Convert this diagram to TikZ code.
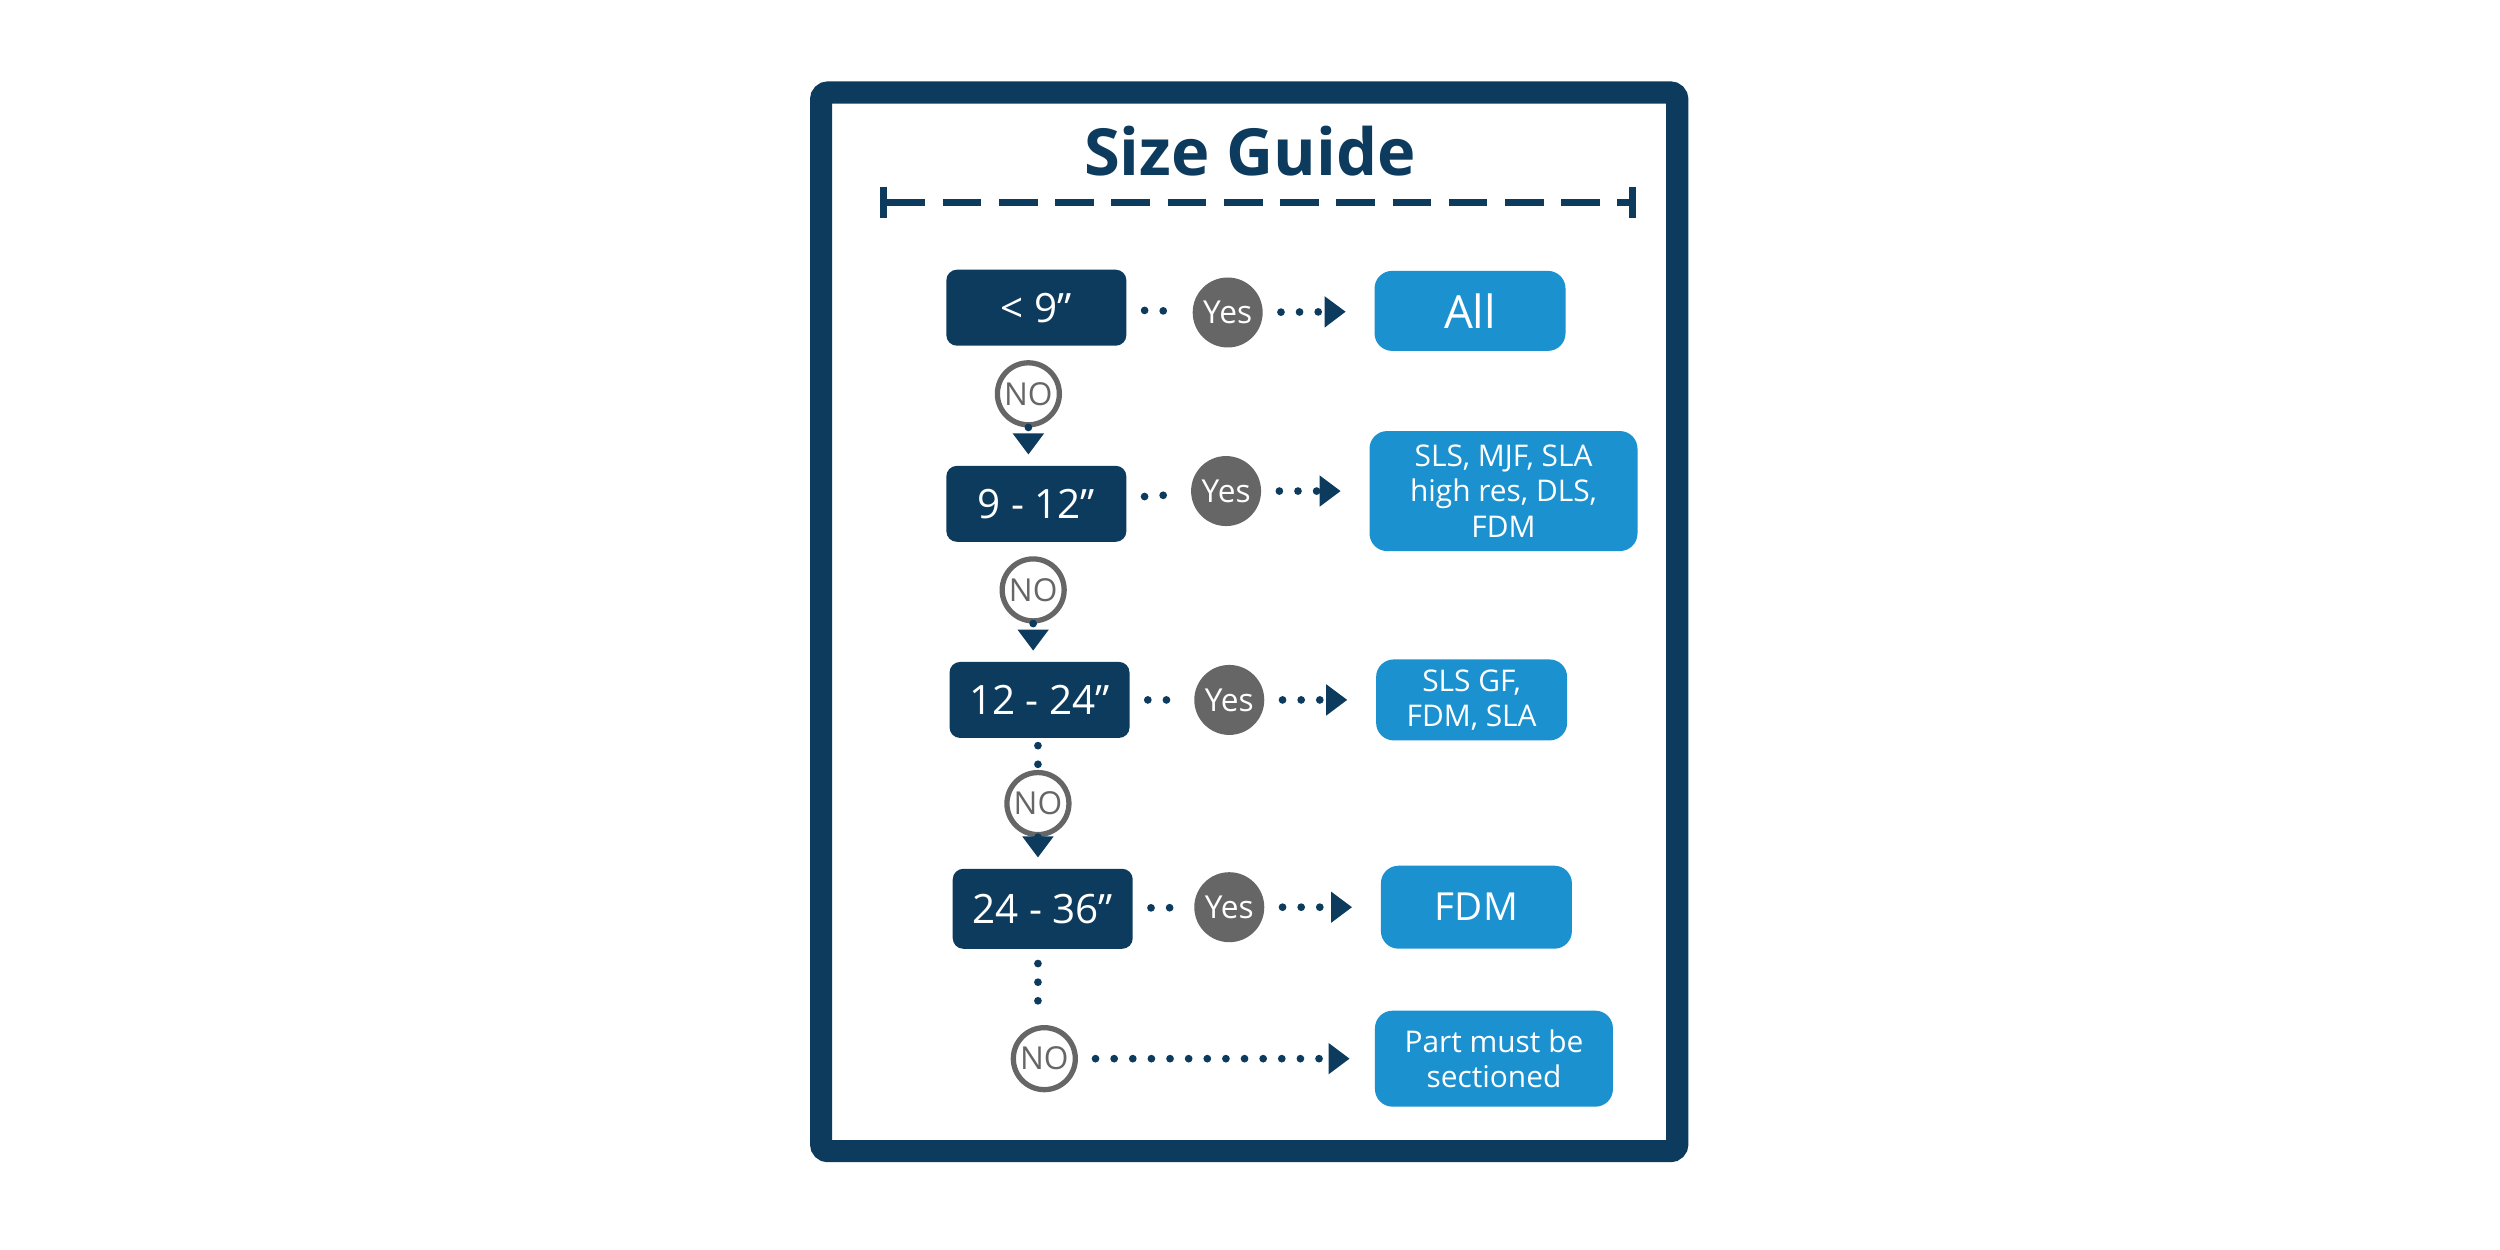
\documentclass[tikz,border=0pt]{standalone}
\usepackage{fontspec}
\setmainfont{Open Sans}
\usetikzlibrary{arrows.meta}
\definecolor{navy}{HTML}{0D3B5E}
\definecolor{skyblue}{HTML}{1B91D0}
\definecolor{greyc}{HTML}{666666}

\begin{document}
\begin{tikzpicture}[x=0.01594cm, y=-0.01594cm]
	\tikzstyle{sizebox} = [rectangle, rounded corners=3pt, fill=navy, text=white, minimum width=1.8cm, minimum height=0.76cm, font=\fontsize{11.5}{14}\selectfont]
	\tikzstyle{procbox} = [rectangle, rounded corners=5pt, fill=skyblue, text=white, align=center, font=\fontsize{8.5}{10}\selectfont, inner sep=2pt]
	\tikzstyle{yesdot} = [circle, fill=greyc, text=white, minimum size=0.7cm, inner sep=0pt, font=\fontsize{9}{10}\selectfont]
	\tikzstyle{nodot} = [circle, draw=greyc, line width=1.5pt, fill=white, text=greyc, minimum size=0.62cm, inner sep=0pt, font=\fontsize{9}{10}\selectfont]
	\tikzstyle{link} = [navy, line width=2.2pt, line cap=round, dash pattern=on 0pt off 5.3pt, shorten <=5pt]
	\tikzstyle{tip} = [-{Triangle[length=6pt,width=8.5pt,line cap=butt]}]
	\fill[white] (0,0) rectangle (1568,784);
	\draw[navy, line width=6.3pt, rounded corners=2pt] (515,58) rectangle (1052,722);
	\node[text=navy, font=\fontsize{18.5}{22}\selectfont\bfseries] (Title) at (784,95) {Size Guide};
	\draw[navy, line width=2pt, dash pattern=on 11pt off 5pt] (556,127) -- (1022,127);
	\draw[navy, line width=2pt] (554,117) -- (554,137) (1024,117) -- (1024,137);
	\node[sizebox] (Under9) at (650,193) {< 9”};
	\node[sizebox] (To12) at (650,316) {9 - 12”};
	\node[sizebox] (To24) at (652,439) {12 - 24”};
	\node[sizebox, minimum height=0.8cm] (To36) at (654,570) {24 - 36”};
	\node[yesdot] (YesA) at (770,196) {Yes};
	\node[yesdot] (YesB) at (769,308) {Yes};
	\node[yesdot] (YesC) at (771,439) {Yes};
	\node[yesdot] (YesD) at (771,569) {Yes};
	\node[procbox, minimum width=1.91cm, minimum height=0.8cm, font=\fontsize{13}{15}\selectfont] (All) at (922,195) {All};
	\node[procbox, minimum width=2.68cm, minimum height=1.2cm] (HighRes) at (943,308) {SLS, MJF, SLA\\high res, DLS,\\FDM};
	\node[procbox, minimum width=1.91cm, minimum height=0.81cm] (GlassF) at (923,439) {SLS GF,\\FDM, SLA};
	\node[procbox, minimum width=1.91cm, minimum height=0.83cm, font=\fontsize{11}{13}\selectfont] (Fdm) at (926,569) {FDM};
	\node[procbox, minimum width=2.38cm, minimum height=0.96cm] (Section) at (937,664) {Part must be\\sectioned};
	\node[nodot] (NoA) at (645,247) {NO};
	\node[nodot] (NoB) at (648,370) {NO};
	\node[nodot] (NoC) at (651,504) {NO};
	\node[nodot] (NoD) at (655,664) {NO};
	\draw[link, shorten >=3pt] (Under9) -- (YesA);
	\draw[link, shorten >=3pt] (To12) -- (YesB);
	\draw[link, shorten >=3pt] (To24) -- (YesC);
	\draw[link, shorten >=3pt] (To36) -- (YesD);
	\draw[link, tip, shorten >=8pt] (YesA) -- (All);
	\draw[link, tip, shorten >=8pt] (YesB) -- (HighRes);
	\draw[link, tip, shorten >=8pt] (YesC) -- (GlassF);
	\draw[link, tip, shorten >=8pt] (YesD) -- (Fdm);
	\draw[link, tip, shorten >=7pt] (NoD) -- (Section);
	\draw[link, tip, shorten >=3pt, shorten <=0pt] (NoA) -- (NoA |- To12.north);
	\draw[link, tip, shorten >=3pt, shorten <=0pt] (NoB) -- (NoB |- To24.north);
	\draw[link, tip, shorten >=3pt, shorten <=0pt] (NoC) -- (NoC |- To36.north);
	\draw[link, shorten <=2pt] (To24.south -| NoC) -- (NoC);
	\draw[link, shorten <=0pt] ([yshift=-4pt]To36.south -| NoC) -- ([yshift=4pt]NoD.north -| NoC);
\end{tikzpicture}
\end{document}
